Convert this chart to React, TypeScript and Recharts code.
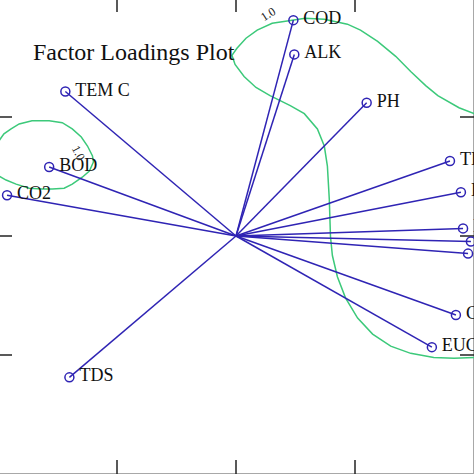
import { ScatterChart, Scatter, XAxis, YAxis } from 'recharts';

// Variable loadings on the first two factors
const variables = ['COD', 'ALK', 'PH', 'TEM C', 'BOD', 'CO2', 'TDS', 'TH', 'DO', 'MG', 'NA', 'K', 'CA', 'EUC'];
const factor1 = [0.241, 0.245, 0.549, -0.717, -0.785, -0.962, -0.7, 0.899, 0.945, 0.954, 0.987, 0.975, 0.924, 0.823];
const factor2 = [0.907, 0.763, 0.56, 0.607, 0.29, 0.171, -0.594, 0.315, 0.184, 0.032, -0.023, -0.074, -0.332, -0.467];

// 1.0 density contour, left loop
const loopX = [-0.996, -0.975, -0.945, -0.911, -0.857, -0.785, -0.73, -0.688, -0.65, -0.624, -0.603, -0.599, -0.616, -0.646, -0.688, -0.722, -0.772, -0.814, -0.869, -0.924, -0.966, -0.996];
const loopY = [0.4, 0.429, 0.45, 0.471, 0.484, 0.484, 0.476, 0.45, 0.416, 0.378, 0.336, 0.311, 0.273, 0.247, 0.218, 0.201, 0.197, 0.197, 0.201, 0.218, 0.235, 0.252];

// 1.0 density contour, right lobe
const lobeX = [1.0, 0.937, 0.848, 0.797, 0.734, 0.671, 0.595, 0.523, 0.468, 0.371, 0.291, 0.215, 0.152, 0.089, 0.042, 0.004, -0.017,
  -0.004, 0.034, 0.084, 0.143, 0.228, 0.287, 0.342, 0.371, 0.384, 0.392, 0.397, 0.405, 0.426, 0.46, 0.511, 0.574, 0.65, 0.734, 0.831, 0.916, 1.0];
const lobeY = [0.514, 0.539, 0.59, 0.632, 0.691, 0.755, 0.818, 0.865, 0.89, 0.911, 0.915, 0.903, 0.894, 0.865, 0.831, 0.789, 0.759,
  0.721, 0.67, 0.624, 0.59, 0.548, 0.514, 0.45, 0.378, 0.294, 0.154, -0.002, -0.082, -0.171, -0.26, -0.345, -0.412, -0.463, -0.493, -0.51, -0.514, -0.51];

// contour level tags
const levelText = ['1.0', '1.0'];
const levelX = [0.135, -0.662];
const levelY = [0.932, 0.349];
const levelAngle = [-33, 62];

const axisTicks = [-0.5, 0, 0.5];

const BLUE = '#2f24b4';
const GREEN = '#3cc97a';
const SERIF = '"Liberation Serif", "Times New Roman", serif';

const toPoints = (xs: number[], ys: number[]) => xs.map((x, i) => ({ x, y: ys[i] }));

const loopData = toPoints(loopX, loopY);
const lobeData = toPoints(lobeX, lobeY);
const levelData = levelText.map((t, i) => ({ x: levelX[i], y: levelY[i], text: t, angle: levelAngle[i] }));

const LoadingMarker = (props: any) => {
  const { cx, cy, payload } = props;
  if (!payload || !payload.name) return <g />;
  return (
    <g>
      <circle cx={cx} cy={cy} r={4.5} fill="none" stroke={BLUE} strokeWidth={1.5} />
      <text x={cx + 10} y={cy + 4} fontSize={18} fontFamily={SERIF} fill="#111">
        {payload.name}
      </text>
    </g>
  );
};

const LevelTag = (props: any) => {
  const { cx, cy, payload } = props;
  return (
    <text
      x={cx}
      y={cy}
      fontSize={12}
      fontFamily={SERIF}
      fill="#222"
      textAnchor="middle"
      dominantBaseline="central"
      transform={`rotate(${payload.angle} ${cx} ${cy})`}
    >
      {payload.text}
    </text>
  );
};

const NoDot = () => <g />;
const NoTickLabel = () => <g />;

// frame axes: unlabeled ticks pointing inward
const frameAxis = {
  type: 'number' as const,
  domain: [-1, 1],
  ticks: axisTicks,
  allowDataOverflow: true,
  mirror: true,
  tick: NoTickLabel,
  tickSize: 14,
  tickLine: { stroke: '#222', strokeWidth: 1.5 },
};

export default function App() {
  return (
    <div style={{ position: 'fixed', left: 0, top: 0, width: 474, height: 474, overflow: 'hidden', background: '#fff' }}>
      <div style={{ position: 'absolute', left: -2, top: -2 }}>
        <ScatterChart width={476} height={476} margin={{ top: 0, right: 0, bottom: 0, left: 0 }}>
          <XAxis xAxisId="b" dataKey="x" orientation="bottom" height={1} {...frameAxis} axisLine={{ stroke: '#a8a8a8', strokeWidth: 2 }} />
          <XAxis xAxisId="t" dataKey="x" orientation="top" height={1} {...frameAxis} axisLine={{ stroke: '#222' }} />
          <YAxis yAxisId="l" dataKey="y" orientation="left" width={1} {...frameAxis} axisLine={{ stroke: '#222' }} />
          <YAxis yAxisId="r" dataKey="y" orientation="right" width={1} {...frameAxis} axisLine={{ stroke: '#a8a8a8', strokeWidth: 2 }} />

          <Scatter xAxisId="b" yAxisId="l" data={loopData} line={{ stroke: GREEN, strokeWidth: 1.5 }} shape={NoDot} isAnimationActive={false} />
          <Scatter xAxisId="b" yAxisId="l" data={lobeData} line={{ stroke: GREEN, strokeWidth: 1.5 }} shape={NoDot} isAnimationActive={false} />

          {variables.map((name, i) => (
            <Scatter
              key={name}
              xAxisId="b"
              yAxisId="l"
              data={[{ x: 0, y: 0 }, { x: factor1[i], y: factor2[i], name }]}
              line={{ stroke: BLUE, strokeWidth: 1.5 }}
              shape={LoadingMarker}
              isAnimationActive={false}
            />
          ))}

          <Scatter xAxisId="b" yAxisId="l" data={levelData} shape={LevelTag} isAnimationActive={false} />
        </ScatterChart>
      </div>
      <div
        style={{
          position: 'absolute',
          left: 33,
          top: 40,
          fontFamily: SERIF,
          fontSize: 24,
          lineHeight: '24px',
          color: '#111',
          whiteSpace: 'nowrap',
        }}
      >
        Factor Loadings Plot
      </div>
    </div>
  );
}
